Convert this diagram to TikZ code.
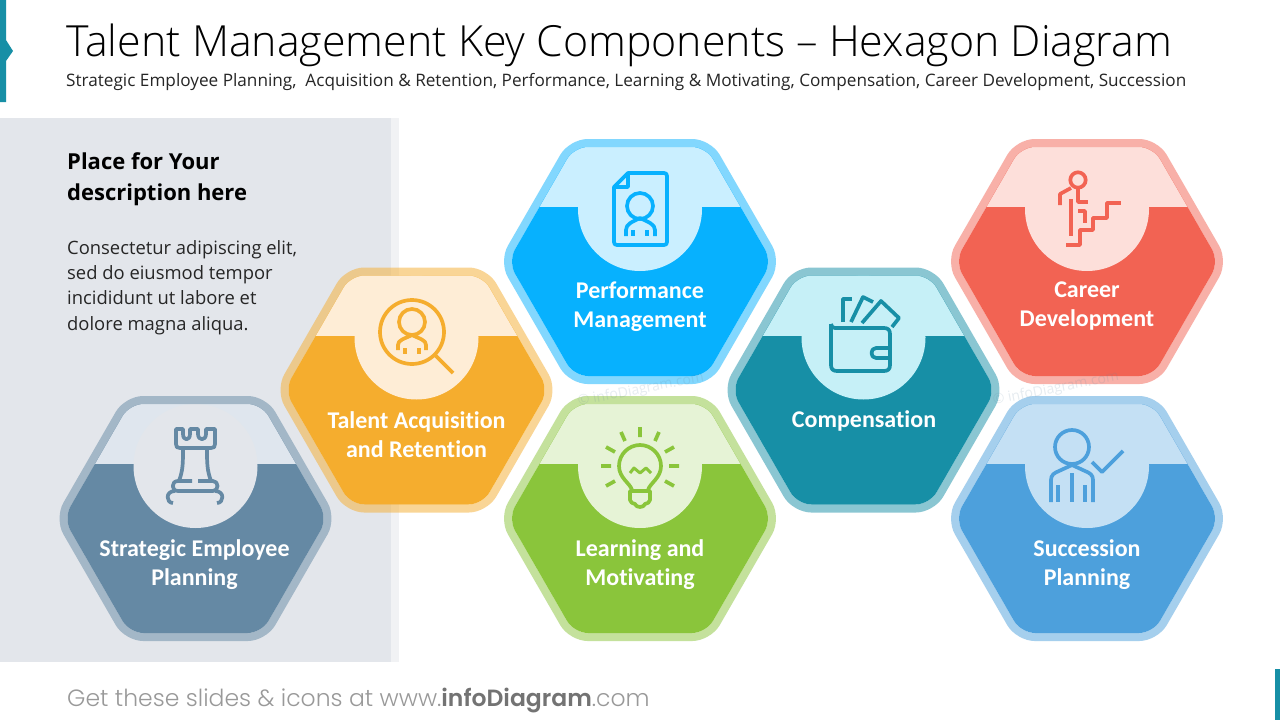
\documentclass[tikz,border=0pt]{standalone}
\usepackage{fontspec}
\setmainfont{Open Sans}
\newfontfamily\lightfont{Open Sans Light}
\newfontfamily\labelfont[Ligatures=NoCommon]{Carlito}
\newfontfamily\footfont{Poppins Light}
\newfontfamily\footbold{Poppins SemiBold}
\definecolor{cgrey}{HTML}{6589A4}\definecolor{cgreyT}{HTML}{DFE6EE}\definecolor{cgreyC}{HTML}{E3E6EB}
\definecolor{corange}{HTML}{F5AD2E}\definecolor{corangeT}{HTML}{FEEDD6}
\definecolor{cblue}{HTML}{07B1FE}\definecolor{cblueT}{HTML}{CAEFFF}
\definecolor{cgreen}{HTML}{8AC53B}\definecolor{cgreenT}{HTML}{E6F3D6}
\definecolor{cteal}{HTML}{178FA6}\definecolor{ctealT}{HTML}{C6F0F7}
\definecolor{cred}{HTML}{F26353}\definecolor{credT}{HTML}{FDDFDA}
\definecolor{csky}{HTML}{4DA0DC}\definecolor{cskyT}{HTML}{C4E0F4}
\definecolor{panel}{HTML}{E3E6EB}\definecolor{panelS}{HTML}{F1F2F4}
\tikzset{
 hexlabel/.style={font=\labelfont\bfseries\fontsize{24}{29}\selectfont,text=white,align=center,inner sep=0pt},
 ico/.style={line width=3.7pt,line cap=butt,line join=round},
 wmark/.style={font=\fontsize{14}{16}\selectfont,text=cgrey,text opacity=.16,rotate=11,inner sep=0pt},
}
\newcommand{\hexa}[5]{% cx cy main top circle
 \begin{scope}[shift={(#1,#2)}]
  \def\hp{[rounded corners=14pt] (-132,0) -- (-66,-114.5) -- (66,-114.5) -- (132,0) -- (66,114.5) -- (-66,114.5) -- cycle}
  \fill[#3] \hp;
  \begin{scope}
   \clip \hp;
   \fill[#4] (-140,-120) rectangle (140,-54.5);
   \fill[#5] (0,-52.5) circle (62);
  \end{scope}
  \draw[#3,line width=8pt,draw opacity=.5] [rounded corners=16pt] (-136.6,0) -- (-68.3,-118.5) -- (68.3,-118.5) -- (136.6,0) -- (68.3,118.5) -- (-68.3,118.5) -- cycle;
 \end{scope}
}
\begin{document}
\begin{tikzpicture}[x=1pt,y=-1pt]
\useasboundingbox (0,0) rectangle (1280,720);
\fill[white] (0,0) rectangle (1280,720);
\fill[panel] (0,118) rectangle (391,662);
\fill[panelS] (391,118) rectangle (399,662);
\fill[cteal] (0,0) -- (6,0) -- (6,40) -- (13,51) -- (6,61) -- (6,102) -- (0,102) -- cycle;
\fill[cteal] (1275,669) rectangle (1280,720);
\node[anchor=base west,inner sep=0pt,font=\lightfont\fontsize{42.9}{50}\selectfont,text=black] (title) at (66,56) {Talent Management Key Components – Hexagon Diagram};
\node[anchor=base west,inner sep=0pt,font=\fontsize{17.17}{20}\selectfont,text=black!85] (subtitle) at (66,86) {Strategic Employee Planning,\ \ Acquisition \& Retention, Performance, Learning \& Motivating, Compensation, Career Development, Succession};
\node[anchor=base west,inner sep=0pt,font=\bfseries\fontsize{22}{31}\selectfont,align=left] (ph) at (67,200) {Place for Your\\description here};
\node[anchor=base west,inner sep=0pt,font=\fontsize{18.4}{25.3}\selectfont,align=left,text=black!85] (desc) at (67,330) {Consectetur adipiscing elit,\\sed do eiusmod tempor\\incididunt ut labore et\\dolore magna aliqua.};
\node[anchor=base west,inner sep=0pt,font=\footfont\fontsize{23.5}{28}\selectfont,text=black!40] (foot) at (67,706) {Get these slides \& icons at www.{\footbold\color{black!55}infoDiagram}.com};
\hexa{195.5}{518.5}{cgrey}{cgreyT}{cgreyC}
\hexa{416.5}{390}{corange}{corangeT}{corangeT}
\hexa{640}{261.5}{cblue}{cblueT}{cblueT}
\hexa{640}{518.5}{cgreen}{cgreenT}{cgreenT}
\hexa{863.5}{390}{cteal}{ctealT}{ctealT}
\hexa{1087}{261.5}{cred}{credT}{credT}
\hexa{1087}{518.5}{csky}{cskyT}{cskyT}
\node[wmark] (w1) at (641,390) {© infoDiagram.com};
\node[wmark] (w2) at (1056,389) {© infoDiagram.com};
\node[hexlabel] (l1) at (194.5,565) {Strategic Employee\\Planning};
\node[hexlabel] (l2) at (416.5,434.5) {Talent Acquisition\\and Retention};
\node[hexlabel] (l3) at (640,306.5) {Performance\\Management};
\node[hexlabel] (l4) at (640,565) {Learning and\\Motivating};
\node[hexlabel] (l5) at (864,421) {Compensation};
\node[hexlabel] (l6) at (1087,306.5) {Career\\Development};
\node[hexlabel] (l7) at (1087,565) {Succession\\Planning};
% rook
\begin{scope}[shift={(140,415)},ico,draw=cgrey]
 \draw (36,14) -- (43,14) -- (43,19) .. controls (43,26) and (50,26) .. (50,19) -- (50,14) -- (58,14) -- (58,19) .. controls (58,26) and (66,26) .. (66,19) -- (66,14) -- (75,14) -- (75,29) .. controls (75,32) and (74,33) .. (71,33) -- (40,33) .. controls (37,33) and (36,32) .. (36,29) -- cycle;
 \draw (43,34) .. controls (43,48) and (43,55) .. (39,66) (67,34) .. controls (67,48) and (67,55) .. (71,66);
 \draw (52,66) -- (38,66) .. controls (31,66) and (31,76) .. (38,76) -- (73,76) .. controls (79,76) and (79,66) .. (73,66) -- (58,66);
 \draw (33,88) .. controls (26,88) and (25,76) .. (35,76) (77,88) .. controls (84,88) and (85,76) .. (75,76);
\end{scope}
% magnifier person
\begin{scope}[shift={(360,285)},ico,draw=corange]
 \draw (52,47) circle (32);
 \draw (52,37) circle (13);
 \draw (38,65) -- (38,60) .. controls (38,55) and (44,54) .. (52,50) .. controls (60,54) and (66,55) .. (66,60) -- (66,65);
 \draw (45,63) -- (45,69) (59,63) -- (59,69);
 \draw (74,69) -- (93,88);
\end{scope}
% document person
\begin{scope}[shift={(560,130)},ico,draw=cblue]
 \draw (68,43) -- (104,43) .. controls (106,43) and (107,44) .. (107,46) -- (107,112) .. controls (107,114) and (106,115) .. (104,115) -- (57,115) .. controls (55,115) and (54,114) .. (54,112) -- (54,57) -- cycle;
 \draw (68,43) -- (68,57) -- (54,57);
 \draw (80,76) circle (13);
 \draw (66,106) -- (66,100) .. controls (66,94) and (72,92) .. (80,88) .. controls (88,92) and (95,94) .. (95,100) -- (95,106);
 \draw (73,100) -- (73,106) (87,100) -- (87,106);
\end{scope}
% bulb
\begin{scope}[shift={(580,415)},ico,draw=cgreen]
 \draw (60,12) -- (60,22) (41,17) -- (45,26) (79,17) -- (75,26) (26,32) -- (35,37) (94,32) -- (85,37) (21,51) -- (31,51) (89,51) -- (99,51) (26,71) -- (35,66) (94,71) -- (85,66);
 \draw (52,75) .. controls (50,68) and (39,63) .. (39,51) .. controls (39,39) and (49,30) .. (60,30) .. controls (71,30) and (81,39) .. (81,51) .. controls (81,63) and (70,68) .. (68,75);
 \draw (50,76) -- (70,76) -- (70,85) .. controls (70,88) and (67,88) .. (65,89) .. controls (64,93) and (56,93) .. (55,89) .. controls (53,88) and (50,88) .. (50,85) -- cycle;
 \draw[line width=3pt] (50,58) -- (54,53) -- (60,58) -- (66,53) -- (71,58);
\end{scope}
% wallet
\begin{scope}[shift={(790,280)},ico,draw=cteal]
 \draw (53,42) -- (53,19) -- (62,19);
 \draw (61,42) -- (73,17) -- (83,22);
 \draw (72,43) -- (91,21) -- (109,38) -- (102,47);
 \draw (41,44) -- (41,85) .. controls (41,89) and (43,91) .. (47,91) -- (94,91) .. controls (98,91) and (100,89) .. (100,85) -- (100,54) .. controls (100,50) and (98,48) .. (94,48) -- (45,48) .. controls (43,48) and (41,47) .. (41,44);
 \draw (99,78) -- (86,78) .. controls (80,78) and (80,68) .. (86,68) -- (99,68);
\end{scope}
% stairs
\begin{scope}[shift={(1010,150)},ico,draw=cred]
 \draw (68,30) circle (7.7);
 \draw (61,38) -- (50,44) -- (50,55);
 \draw (68,38) -- (68,52) -- (78,52);
 \draw (61,49) -- (61,86);
 \draw (68,61) -- (75,61) -- (75,73);
 \draw (56,95) -- (70,95) -- (70,80) -- (83,80) -- (83,68) -- (97,68) -- (97,53) -- (111,53);
\end{scope}
% person check
\begin{scope}[shift={(1020,415)},ico,draw=csky]
 \draw (52,32) circle (17);
 \draw (31,87) -- (31,65) .. controls (31,60) and (34,58) .. (39,56) -- (52,50) -- (65,56) .. controls (70,58) and (73,60) .. (73,65) -- (73,87);
 \draw (38,70) -- (38,87) (52,58) -- (52,87) (65,70) -- (65,87);
 \draw (72,47) -- (82,57) -- (103,36);
\end{scope}
\end{tikzpicture}
\end{document}
